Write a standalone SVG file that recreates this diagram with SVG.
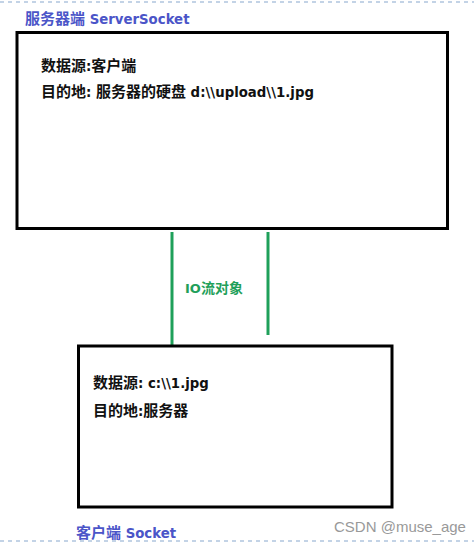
<svg xmlns="http://www.w3.org/2000/svg" width="474" height="543" viewBox="0 0 474 543">
<style>
.box{fill:#fff;stroke:#000;stroke-width:3}
.t{font-family:"Noto Sans CJK SC",sans-serif;font-weight:bold;font-size:15px;fill:#111}
.h{font-family:"Noto Sans CJK SC",sans-serif;font-weight:bold;font-size:15px;fill:#4b55c8}
.l{font-family:"DejaVu Sans",sans-serif;font-weight:bold;font-size:13.3px}
.io{stroke:#1fa05a;stroke-width:3}
.dash{stroke:#c3d3e6;stroke-width:2;stroke-dasharray:4 4}
</style>
<rect width="474" height="543" fill="#fff"/>
<line class="dash" x1="0" y1="2" x2="474" y2="2"/>
<line class="dash" x1="0" y1="541" x2="474" y2="541"/>
<g id="server">
<text class="h" x="25" y="24">服务器端<tspan class="l" font-size="13px"> ServerSocket</tspan></text>
<rect class="box" x="17" y="32.5" width="430.5" height="196"/>
<text class="t" x="41" y="71">数据源<tspan class="l">:</tspan>客户端</text>
<text class="t" x="41" y="97">目的地<tspan class="l">: </tspan>服务器的硬盘<tspan class="l"> d:\\upload\\1.jpg</tspan></text>
</g>
<g id="connectors">
<line class="io" x1="172" y1="232" x2="172" y2="346"/>
<line class="io" x1="268" y1="232" x2="268" y2="335"/>
<text x="185" y="293" style="font-family:'Noto Sans CJK SC',sans-serif;font-weight:bold;font-size:14px;fill:#1fa05a"><tspan style="font-family:'DejaVu Sans',sans-serif;font-size:13px">IO</tspan>流对象</text>
</g>
<g id="client">
<rect class="box" x="78.5" y="346" width="313.5" height="161"/>
<text class="t" x="93" y="388">数据源<tspan class="l">: c:\\1.jpg</tspan></text>
<text class="t" x="93" y="416">目的地<tspan class="l">:</tspan>服务器</text>
<text class="h" x="76" y="538">客户端<tspan class="l" font-size="13px"> Socket</tspan></text>
</g>
<text x="334" y="532" style="font-family:'Liberation Sans',sans-serif;font-size:15px;fill:#999">CSDN @muse_age</text>
</svg>
